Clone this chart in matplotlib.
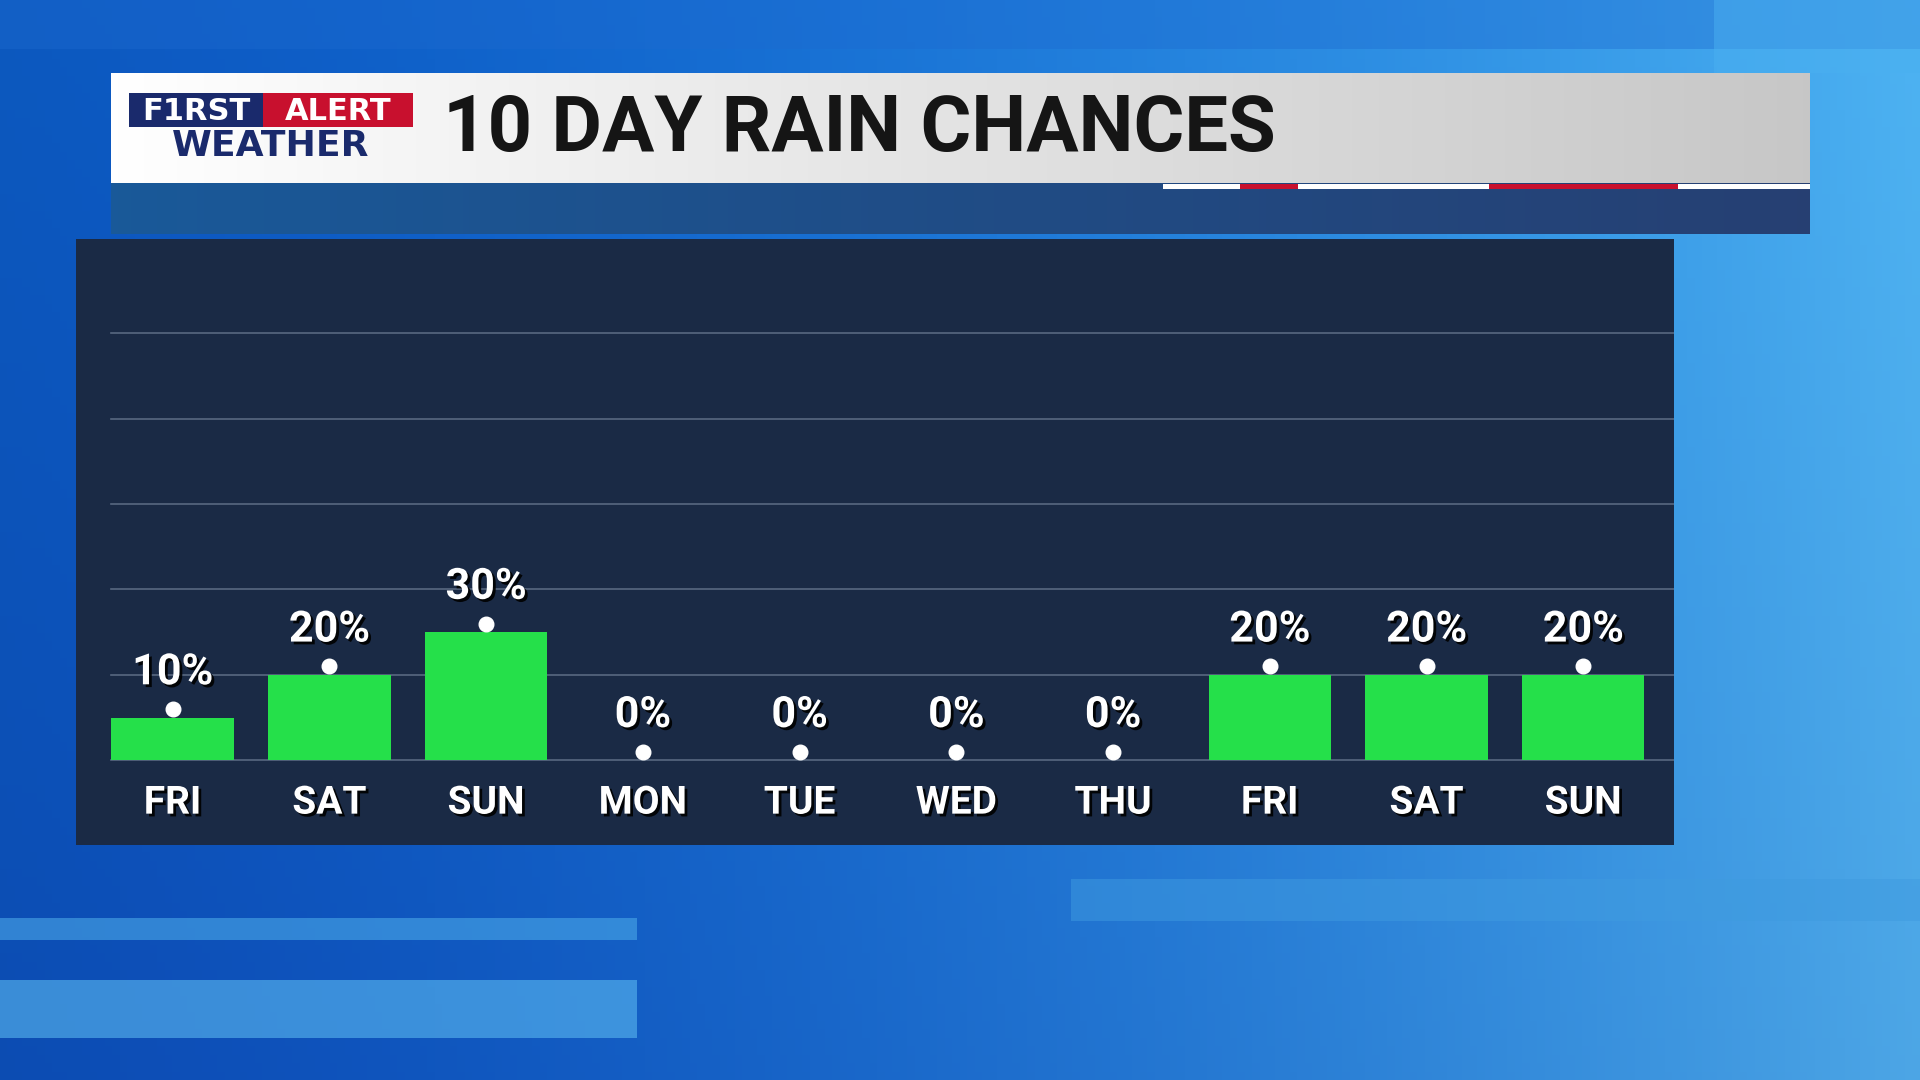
import numpy as np
import matplotlib
matplotlib.use("Agg")
import matplotlib.pyplot as plt
import matplotlib.patheffects as pe
from matplotlib.patches import Rectangle

days = ["FRI", "SAT", "SUN", "MON", "TUE", "WED", "THU", "FRI", "SAT", "SUN"]
chances = [10, 20, 30, 0, 0, 0, 0, 20, 20, 20]
grid_levels = [20, 40, 60, 80, 100]

W, H = 1568, 882  # reference pixel space
fig = plt.figure(figsize=(19.2, 10.8), dpi=100)

# background
bg = fig.add_axes([0, 0, 1, 1])
bg.set_xlim(0, W)
bg.set_ylim(H, 0)
bg.axis("off")
gx = np.linspace(0, 1, 256)[None, :]
gy = np.linspace(0, 1, 128)[:, None]
r = 0.05 + 0.25 * gx ** 2 + 0.0 * gy
g = 0.35 + 0.35 * gx ** 1.5 - 0.05 * gy
b = 0.75 + 0.2 * gx - 0.05 * gy
bg.imshow(np.dstack([r, g, b]).clip(0, 1), extent=[0, W, H, 0], aspect="auto")
for x0, y0, w, h, c, a in [(0, 750, 520, 18, "#4aa8e8", 0.6), (0, 800, 520, 48, "#5ab8f0", 0.6),
                           (875, 718, 693, 34, "#3f9be0", 0.5), (0, 0, 1568, 40, "#1d6ad0", 0.4),
                           (1400, 0, 168, 60, "#4ab0f0", 0.5)]:
    bg.add_patch(Rectangle((x0, y0), w, h, color=c, alpha=a, lw=0))

# header bar
hg = np.linspace(1, 0.78, 256)[None, :]
bg.imshow(np.dstack([hg, hg, hg]), extent=[91, 1478, 150, 60], aspect="auto")
sg = np.linspace(0, 1, 256)[None, :]
bg.imshow(np.dstack([0.1 + 0.05 * sg, 0.35 - 0.1 * sg, 0.6 - 0.15 * sg]),
          extent=[91, 1478, 191, 150], aspect="auto")
bg.add_patch(Rectangle((950, 150), 528, 4, color="white", lw=0))
bg.add_patch(Rectangle((1013, 150), 47, 4, color="#c8102e", lw=0))
bg.add_patch(Rectangle((1216, 150), 154, 4, color="#c8102e", lw=0))
bg.text(362, 106, "10 DAY RAIN CHANCES", fontsize=56, fontweight="bold",
        family="Roboto", color="#151515", va="center", ha="left")
# logo
bg.add_patch(Rectangle((105, 76), 232, 28, color="#1a2a6c", lw=0))
bg.add_patch(Rectangle((215, 76), 122, 28, color="#c8102e", lw=0))
bg.text(160, 91, "F1RST", fontsize=22, fontweight="heavy", color="white", ha="center", va="center", family="DejaVu Sans")
bg.text(276, 91, "ALERT", fontsize=22, fontweight="heavy", color="white", ha="center", va="center", family="DejaVu Sans")
bg.text(221, 119, "WEATHER", fontsize=26, fontweight="heavy", color="#1a2a6c", ha="center", va="center", family="DejaVu Sans")

# chart panel
ax = fig.add_axes([62 / W, 1 - 690 / H, (1367 - 62) / W, (690 - 195) / H])
ax.set_facecolor("#1a2a45")
for s in ax.spines.values():
    s.set_visible(False)
ax.set_xticks([])
ax.set_yticks([])
px = 3.49
ax.set_xlim((62 - 141) / 128, (1367 - 141) / 128)
ax.set_ylim(-(690 - 621) / px, (621 - 195) / px)
xmin = (91 - 141) / 128
for lv in [0] + grid_levels:
    ax.plot([xmin, 9.578], [lv, lv], color="#8090a8", lw=1.2, alpha=0.6)

x = np.arange(len(days))
ax.bar(x, chances, width=100 / 128, color="#25e04a", zorder=3)
shadow = [pe.SimplePatchShadow(offset=(2, -2), shadow_rgbFace="black", alpha=0.9), pe.Normal()]
for i, (d, v) in enumerate(zip(days, chances)):
    ax.scatter(i, v + 2, s=110, color="white", zorder=4)
    ax.text(i, v + 10.5, f"{v}%", fontsize=31, fontweight="bold", family="Roboto",
            color="white", ha="center", va="center", zorder=5, path_effects=shadow)
    ax.text(i, -10, d, fontsize=28, fontweight="bold", family="Roboto",
            color="white", ha="center", va="center", zorder=5, path_effects=shadow)

fig.savefig("out.png", dpi=100)
